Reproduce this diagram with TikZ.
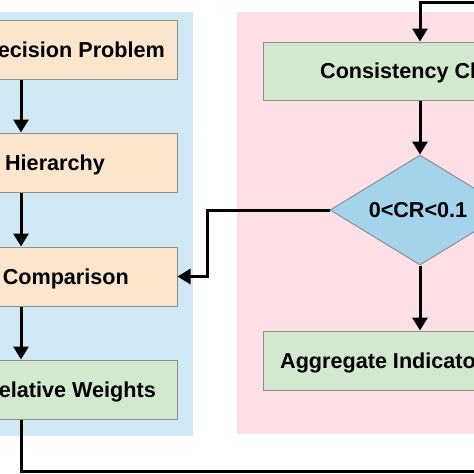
\documentclass[tikz,border=0pt]{standalone}
\usepackage{fontspec}
\setmainfont{Liberation Sans}
\usetikzlibrary{arrows.meta,shapes.geometric}
\definecolor{panelblue}{HTML}{D1E9F5}
\definecolor{panelpink}{HTML}{FDE0E6}
\definecolor{boxorange}{HTML}{FCE5CD}
\definecolor{boxgreen}{HTML}{D3E8CF}
\definecolor{diamondblue}{HTML}{A3D4EC}
\definecolor{bordergray}{HTML}{8E8E8E}
\tikzset{
  boxstyle/.style={draw=bordergray, line width=1pt, rectangle, inner sep=0pt},
  orangebox/.style={boxstyle, fill=boxorange, minimum width=312pt, minimum height=59pt},
  greenbox/.style={boxstyle, fill=boxgreen},
  txt/.style={inner sep=0pt, font=\fontsize{21.6}{25}\selectfont\bfseries},
  conn/.style={line width=3pt, black, -{Triangle[length=13pt,width=15pt]}},
  plain/.style={line width=3pt, black}
}
\begin{document}
\begin{tikzpicture}[x=1pt,y=-1pt]
\useasboundingbox (0,0) rectangle (474,474);
\fill[white] (0,0) rectangle (474,474);
% panels
\fill[panelblue] (-10,12) rectangle (193,436);
\fill[panelpink] (237,12) rectangle (490,434);
% left column boxes
\node[orangebox] (dp) at (21,49.5) {};
\node[orangebox] (hi) at (21,162.5) {};
\node[orangebox] (cp) at (21,276.5) {};
\node[greenbox, minimum width=312pt, minimum height=59pt] (rw) at (21,389.5) {};
% right column
\node[greenbox, minimum width=314pt, minimum height=58pt] (cc) at (420,71) {};
\node[diamond, draw=bordergray, line width=1pt, fill=diamondblue, minimum width=180pt, minimum height=110pt, inner sep=0pt, aspect=1.636] (dm) at (420,210) {};
\node[greenbox, minimum width=314pt, minimum height=59pt] (ag) at (420,360.5) {};
% texts
\node[txt, anchor=base east] (dpt) at (165,57) {Decision Problem};
\node[txt, anchor=base east] (hit) at (105,170) {Hierarchy};
\node[txt, anchor=base east] (cpt) at (129,284) {Comparison};
\node[txt, anchor=base east] (rwt) at (156,397) {Relative Weights};
\node[txt, anchor=base west] (cct) at (320,78.5) {Consistency Check};
\node[txt, anchor=base west] (agt) at (280,368) {Aggregate Indicator};
\node[txt] (dmt) at (418,210) {0<CR<0.1};
% connectors
\draw[conn] (dp.south) -- (hi.north);
\draw[conn] (hi.south) -- (cp.north);
\draw[conn] (cp.south) -- (rw.north);
\draw[conn] (cc.south) -- (dm.north);
\draw[conn] (dm.south) -- (ag.north);
\coordinate (lb) at (207,210);
\draw[conn] (dm.west) -- (lb) |- (cp.east);
\coordinate (br) at (495,471);
\coordinate (tr) at (495,2);
\draw[conn] (rw.south) |- (br) -- (tr) -| (cc.north);
\end{tikzpicture}
\end{document}
